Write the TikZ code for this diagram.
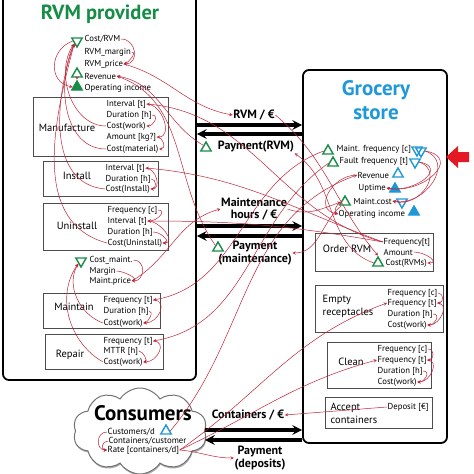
\documentclass[tikz,border=0pt]{standalone}
\usepackage{fontspec}
\setmainfont{PT Sans}
\usepackage{tikz}
\usetikzlibrary{shapes,arrows,positioning,calc,shadows}
\definecolor{providerGreen}{RGB}{22,140,70}
\definecolor{storeBlue}{RGB}{30,152,215}
\definecolor{linkRed}{RGB}{190,35,55}
\definecolor{alertRed}{RGB}{228,25,35}

\begin{document}
\begin{tikzpicture}[x=1pt,y=-1pt,>=stealth,
    actor/.style={draw, rounded corners=6pt, line width=1.8pt},
    procbox/.style={draw=black!70, line width=0.8pt},
    item/.style={anchor=west, inner sep=0.5pt, font=\fontsize{8.7}{9}\selectfont},
    boxlbl/.style={inner sep=0.5pt, align=left, font=\fontsize{10.5}{13}\selectfont},
    flowlbl/.style={inner sep=0.5pt, align=center, font=\bfseries\fontsize{12}{12.5}\selectfont},
    flow/.style={->, line width=3.2pt},
    link/.style={->, draw=linkRed, line width=0.5pt},
    tri/.style={regular polygon, regular polygon sides=3, inner sep=0pt, minimum size=12pt, line width=1.4pt},
    gup/.style={tri, draw=providerGreen},
    gdown/.style={tri, draw=providerGreen, shape border rotate=180},
    bup/.style={tri, draw=storeBlue},
    bdown/.style={tri, draw=storeBlue, shape border rotate=180}]
\useasboundingbox (0,0) rectangle (474,474);

% actors
\node[actor, minimum width=193pt, minimum height=392pt] (provider) at (99.5,184) {};
\node[actor, minimum width=144pt, minimum height=373pt] (store) at (375,256.5) {};
\node[text=providerGreen, font=\bfseries\fontsize{20.5}{22}\selectfont] (provTitle) at (100,14) {RVM provider};
\node[text=storeBlue, align=center, font=\bfseries\fontsize{21}{24}\selectfont] (storeTitle) at (376,100) {Grocery\\store};

% provider: prices
\node[item] (pCost) at (84,39) {Cost/RVM};
\node[item] (pMargin) at (84,52) {RVM\_margin};
\node[item] (pPrice) at (84,64) {RVM\_price};
\node[item] (pRev) at (84,76) {Revenue};
\node[item] (pOpInc) at (84,88) {Operating income};
\node[gdown] (tpCost) at (77,41) {};
\node[gup] (tpRev) at (77,74) {};
\node[gup, fill=providerGreen] (tpOpInc) at (77,87) {};

% provider: processes
\node[procbox, minimum width=135pt, minimum height=59pt] (manuf) at (100.5,126.5) {};
\node[boxlbl] (manufLbl) at (67,128) {Manufacture};
\node[item] (mInt) at (106,104) {Interval [t]};
\node[item] (mDur) at (106,115) {Duration [h]};
\node[item] (mWork) at (106,126) {Cost(work)};
\node[item] (mAmt) at (106,137) {Amount [kg?]};
\node[item] (mMat) at (106,149) {Cost(material)};

\node[procbox, minimum width=115pt, minimum height=35pt] (install) at (100.5,178.5) {};
\node[boxlbl] (installLbl) at (77,176) {Install};
\node[item] (iInt) at (105,168) {Interval [t]};
\node[item] (iDur) at (105,179) {Duration [h]};
\node[item] (iCost) at (105,189) {Cost(Install)};

\node[procbox, minimum width=125pt, minimum height=47pt] (uninst) at (105.5,226.5) {};
\node[boxlbl] (uninstLbl) at (77,226) {Uninstall};
\node[item] (uFreq) at (107,210) {Frequency [c]};
\node[item] (uInt) at (107,221) {Interval [t]};
\node[item] (uDur) at (107,232) {Duration [h]};
\node[item] (uCost) at (107,243) {Cost(Uninstall)};

\node[item] (cmCost) at (89,260) {Cost\_maint.};
\node[item] (cmMargin) at (89,271) {Margin};
\node[item] (cmPrice) at (89,281) {Maint.price};
\node[gdown] (tcmCost) at (81,261) {};

\node[procbox, minimum width=117pt, minimum height=35pt] (maintain) at (101.5,310.5) {};
\node[boxlbl] (maintainLbl) at (74,307) {Maintain};
\node[item] (aFreq) at (103,300) {Frequency [t]};
\node[item] (aDur) at (103,311) {Duration [h]};
\node[item] (aCost) at (103,323) {Cost(work)};

\node[procbox, minimum width=118pt, minimum height=35pt] (repair) at (104,351.5) {};
\node[boxlbl] (repairLbl) at (70,355) {Repair};
\node[item] (rFreq) at (103,341) {Frequency [t]};
\node[item] (rMTTR) at (103,351) {MTTR [h]};
\node[item] (rCost) at (103,362) {Cost(work)};

% grocery store
\node[item] (gMFreq) at (336,149) {Maint. frequency [c]};
\node[item] (gFFreq) at (339,161) {Fault frequency [t]};
\node[item] (gRev) at (357,175) {Revenue};
\node[item] (gUp) at (358,188) {Uptime};
\node[item] (gMCost) at (353,201) {Maint.cost};
\node[item] (gOpInc) at (338,214) {Operating income};
\node[gup] (tgMFreq) at (328,151) {};
\node[gup] (tgFFreq) at (333,163) {};
\node[gup] (tgMCost) at (345,202) {};
\node[bdown] (bMFreqA) at (417,150) {};
\node[bdown] (bMFreqB) at (421,151) {};
\node[bdown] (bFFreq) at (415,162) {};
\node[bup] (bRev) at (398,174) {};
\node[bup, fill=storeBlue] (bUp) at (395,189) {};
\node[bdown] (bMCost) at (402,202) {};
\node[bup, fill=storeBlue] (bOpInc) at (414,212) {};

\node[procbox, minimum width=118pt, minimum height=38pt] (order) at (374,252) {};
\node[boxlbl] (orderLbl) at (347,249) {Order RVM};
\node[item] (oFreq) at (383,242) {Frequency[t]};
\node[item] (oAmt) at (383,252) {Amount};
\node[item] (oCost) at (385,263) {Cost(RVMs)};
\node[gup] (toCost) at (378,263) {};

\node[procbox, minimum width=128pt, minimum height=47pt] (empty) at (379,308.5) {};
\node[boxlbl, anchor=west] (emptyLbl) at (322,306) {Empty\\receptacles};
\node[item] (eFreqC) at (387,293) {Frequency [c]};
\node[item] (eFreqT) at (387,303) {Frequency [t]};
\node[item] (eDur) at (387,314) {Duration [h]};
\node[item] (eCost) at (387,325) {Cost(work)};

\node[procbox, minimum width=104pt, minimum height=46pt] (clean) at (379,365) {};
\node[boxlbl] (cleanLbl) at (351,362) {Clean};
\node[item] (kFreqC) at (377,349) {Frequency [c]};
\node[item] (kFreqT) at (377,360) {Frequency [t]};
\node[item] (kDur) at (377,371) {Duration [h]};
\node[item] (kCost) at (377,382) {Cost(work)};

\node[procbox, minimum width=107pt, minimum height=31pt] (accept) at (378.5,412.5) {};
\node[boxlbl, anchor=west] (acceptLbl) at (330,413) {Accept\\containers};
\node[item] (dDep) at (387,407) {Deposit [€]};

% consumers
\node[cloud, cloud puffs=10, cloud puff arc=115, aspect=1.55, draw=black!55, line width=1pt, fill=white,
      drop shadow={shadow xshift=0.6pt, shadow yshift=-1.6pt, fill=black!65},
      minimum width=134pt, minimum height=86pt] (consumers) at (140,431) {};
\node[font=\bfseries\fontsize{21}{22}\selectfont] (consTitle) at (143,413) {Consumers};
\node[item, font=\fontsize{8.8}{9}\selectfont] (cCust) at (107,432) {Customers/d};
\node[item, font=\fontsize{8.8}{9}\selectfont] (cCont) at (108,441) {Containers/customer};
\node[item, font=\fontsize{8.8}{9}\selectfont] (cRate) at (107,450) {Rate [containers/d]};
\node[bup] (bCust) at (166,431) {};

% flows between actors
\node[flowlbl] (rvmLbl) at (254,115) {RVM / €};
\node[flowlbl] (payRVM) at (256,147) {Payment(RVM)};
\node[gup] (tPayRVM) at (206,148) {};
\node[flowlbl] (maintLbl) at (254,209) {Maintenance\\hours / €};
\node[flowlbl] (payMaint) at (255,253) {Payment\\(maintenance)};
\node[gup] (tPayMaint) at (218,248) {};
\node[flowlbl] (contLbl) at (248,415) {Containers / €};
\node[flowlbl] (payDep) at (260,458) {Payment\\(deposits)};

\draw[flow] (provider.east |- 0,125) -- (store.west |- 0,125);
\draw[flow] (store.west |- 0,134) -- (provider.east |- 0,134);
\draw[flow] (provider.east |- 0,226) -- (store.west |- 0,226);
\draw[flow] (store.west |- 0,236) -- (provider.east |- 0,236);
\draw[flow] (consumers.east |- 0,430) -- (store.west |- 0,430);
\draw[flow] (store.west |- 0,440) -- (consumers.east |- 0,440);

% alert arrow
\fill[alertRed] (446,157) -- (458,146) -- (458,152) -- (469,152) -- (469,162) -- (458,162) -- (458,168) -- cycle;

% provider links
\draw[link] (pCost.east) to[out=0,in=0,looseness=1.6] (pPrice.east);
\draw[link] (pMargin.east) to[out=0,in=20] (pPrice.east);
\draw[link] (pPrice.east) to[out=-15,in=170] (rvmLbl.west);
\draw[link] (tPayRVM.north west) to[out=150,in=-10] (pRev.east);
\draw[link] (tPayMaint.north west) to[out=125,in=-20] (pRev.east);
\draw[link] (tpRev.south) -- (tpOpInc.north);
\draw[link] (tpCost.west) to[out=200,in=170,looseness=1.4] (tpOpInc.west);
\draw[link] (mWork.west) to[out=180,in=235] (tpCost.south west);
\draw[link] (mMat.west) to[out=180,in=245] (tpCost.south west);
\draw[link] (iCost.west) to[out=175,in=250] (tpCost.south west);
\draw[link] (uCost.west) to[out=165,in=255] (tpCost.south west);
\draw[link] (mDur.east) to[out=0,in=0,looseness=1.5] (mWork.east);
\draw[link] (mInt.east) to[out=0,in=0,looseness=1.2] (mAmt.east);
\draw[link] (mAmt.east) to[out=0,in=0,looseness=1.5] (mMat.east);
\draw[link] (iDur.east) to[out=0,in=0,looseness=1.5] (iCost.east);
\draw[link] (iInt.east) to[out=0,in=0,looseness=1.3] (iCost.east);
\draw[link] (uFreq.east) to[out=0,in=0,looseness=1.6] (uInt.east);
\draw[link] (uInt.east) to[out=0,in=0,looseness=1.3] (uCost.east);
\draw[link] (uDur.east) to[out=0,in=0,looseness=1.5] (uCost.east);
\draw[link] (oFreq.west) to[out=165,in=-5] (mInt.east);
\draw[link] (oFreq.west) to[out=160,in=-5] (iInt.east);
\draw[link] (oFreq.west) to[out=170,in=0] (uInt.east);
\draw[link] (cmCost.east) to[out=0,in=0,looseness=1.6] (cmPrice.east);
\draw[link] (cmMargin.east) to[out=0,in=20] (cmPrice.east);
\draw[link] (cmPrice.east) to[out=30,in=195] (maintLbl.west);
\draw[link] (aFreq.east) to[out=0,in=0,looseness=1.6] (aCost.east);
\draw[link] (aDur.east) to[out=0,in=10] (aCost.east);
\draw[link] (rFreq.east) to[out=0,in=0,looseness=1.6] (rCost.east);
\draw[link] (rMTTR.east) to[out=0,in=10] (rCost.east);
\draw[link] (aCost.west) to[out=160,in=240] (tcmCost.south west);
\draw[link] (rCost.west) to[out=150,in=235] (tcmCost.south west);
\draw[link] (tgMFreq.west) to[out=200,in=10] (aFreq.east);
\draw[link] (tgFFreq.west) to[out=215,in=10] (rFreq.east);

% store links
\draw[link] (bMFreqB.east) to[out=-10,in=-10,looseness=1.8] (gUp.east);
\draw[link] (bMFreqB.east) to[out=-20,in=-10,looseness=1.4] (gMCost.east);
\draw[link] (bFFreq.east) to[out=-10,in=-10,looseness=1.8] (gUp.east);
\draw[link] (bFFreq.east) to[out=-20,in=-15,looseness=1.5] (gMCost.east);
\draw[link] (gRev.west) to[out=180,in=170,looseness=1.5] (gOpInc.west);
\draw[link] (tgMCost.west) to[out=200,in=160] (gOpInc.west);
\draw[link] (maintLbl.east) to[out=-20,in=200] (tgMCost.west);
\draw[link] (tgMCost.south west) to[out=220,in=0] (payMaint.east);
\draw[link] (oAmt.east) to[out=0,in=0,looseness=1.8] (oCost.east);
\draw[link] (toCost.west) to[out=160,in=-35] (payRVM.south east);
\draw[link] (rvmLbl.east) to[out=-40,in=130] (toCost.north);
\draw[link] (eFreqC.east) to[out=0,in=0,looseness=1.6] (eFreqT.east);
\draw[link] (eFreqT.east) to[out=0,in=0,looseness=1.4] (eCost.east);
\draw[link] (eDur.east) to[out=0,in=0,looseness=1.6] (eCost.east);
\draw[link] (kFreqC.east) to[out=0,in=0,looseness=1.6] (kFreqT.east);
\draw[link] (kFreqT.east) to[out=0,in=0,looseness=1.4] (kCost.east);
\draw[link] (kDur.east) to[out=0,in=0,looseness=1.6] (kCost.east);
\draw[link] (dDep.west) -- (contLbl.east);

% consumer links
\draw[link] (cCust.west) to[out=180,in=180,looseness=1.6] (cRate.west);
\draw[link] (cCont.west) to[out=180,in=180,looseness=1.8] (cRate.west);
\draw[link] (cRate.east) to[out=-5,in=180] (payDep.west);
\draw[link] (bCust.east) to[out=50,in=200] (gRev.west);
\draw[link] (cRate.east) to[out=35,in=200] (eFreqT.west);
\draw[link] (cRate.east) to[out=25,in=195] (kFreqT.west);
\end{tikzpicture}
\end{document}
